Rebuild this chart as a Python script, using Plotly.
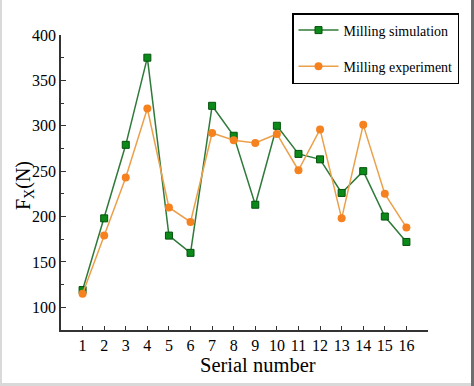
import plotly.graph_objects as go

serial = list(range(1, 17))
simulation = [119, 198, 279, 375, 179, 160, 322, 289, 213, 300, 269, 263, 226, 250, 200, 172]
experiment = [115, 179, 243, 319, 210, 194, 292, 284, 281, 291, 251, 296, 198, 301, 225, 188]
x_ticks = [str(i) for i in serial]
y_ticks = [100, 150, 200, 250, 300, 350, 400]

FONT = "Liberation Serif"

fig = go.Figure()
fig.add_trace(go.Scatter(
    x=serial, y=simulation, name="Milling simulation", mode="lines+markers",
    legendgroup="a",
    line=dict(color="#2f7a3a", width=1.5),
    marker=dict(symbol="square", size=7, color="#0b8a1a", line=dict(color="#05520c", width=1)),
))
fig.add_trace(go.Scatter(
    x=serial, y=experiment, name="Milling experiment", mode="lines+markers",
    legendgroup="b",
    line=dict(color="#eba04a", width=1.5),
    marker=dict(symbol="circle", size=8, color="#f5821f", line=dict(color="#f5821f", width=0)),
))

W, H = 474, 386
L, R, T, B = 61, 46, 35, 56
pw, ph = W - L - R, H - T - B

def px(x):
    return (x - L) / pw

def py(y):
    return (H - B - y) / ph

shapes = [
    dict(type="rect", xref="paper", yref="paper", x0=px(0), x1=px(2), y0=py(H), y1=py(0),
         fillcolor="#d9d9d9", line=dict(width=0), layer="above"),
    dict(type="rect", xref="paper", yref="paper", x0=px(0), x1=px(W), y0=py(H), y1=py(H - 3),
         fillcolor="#d9d9d9", line=dict(width=0), layer="above"),
    dict(type="rect", xref="paper", yref="paper", x0=px(W - 3), x1=px(W), y0=py(H), y1=py(0),
         fillcolor="#6e6e6e", line=dict(width=0), layer="above"),
]

annotations = [
    dict(text="Serial number", xref="paper", yref="paper", x=px(258), y=py(365),
         xanchor="center", yanchor="middle", showarrow=False,
         font=dict(family=FONT, size=20.5, color="black")),
    dict(text="F<sub>X</sub>(N)", xref="paper", yref="paper", x=px(25), y=py(186),
         xanchor="center", yanchor="middle", showarrow=False, textangle=-90,
         font=dict(family=FONT, size=20, color="black")),
]

fig.update_layout(
    width=W, height=H,
    margin=dict(l=L, r=R, t=T, b=B, pad=0, autoexpand=False),
    paper_bgcolor="white", plot_bgcolor="white",
    font=dict(family=FONT, color="black", size=15),
    shapes=shapes,
    annotations=annotations,
    legend=dict(
        x=px(292), y=py(13), xanchor="left", yanchor="top",
        bordercolor="black", borderwidth=1.5, bgcolor="white",
        font=dict(family=FONT, size=14, color="black"),
        traceorder="grouped", tracegroupgap=15,
        itemwidth=40,
    ),
    xaxis=dict(
        range=[0, 17], tickmode="array", tickvals=serial, ticktext=x_ticks,
        showline=True, linecolor="#333", linewidth=1.5, mirror=False,
        ticks="inside", ticklen=4, tickwidth=1.2, tickcolor="#333",
        showgrid=False, zeroline=False,
        tickfont=dict(family=FONT, size=16),
    ),
    yaxis=dict(
        range=[75, 400], tickmode="array", tickvals=y_ticks,
        showline=True, linecolor="#333", linewidth=1.5, mirror=False,
        ticks="inside", ticklen=5, tickwidth=1.2, tickcolor="#333",
        minor=dict(ticks="inside", ticklen=3, tickwidth=1, tickcolor="#333", dtick=25, tick0=75),
        showgrid=False, zeroline=False,
        tickfont=dict(family=FONT, size=16),
    ),
)

fig.write_html("out.html", config={"displayModeBar": False})

# remove the default page margin so the figure sits at the window's top-left corner
with open("out.html", "r", encoding="utf-8") as f:
    html = f.read()
html = html.replace("<head>", "<head><style>html,body{margin:0;padding:0;overflow:hidden;}</style>", 1)
with open("out.html", "w", encoding="utf-8") as f:
    f.write(html)
